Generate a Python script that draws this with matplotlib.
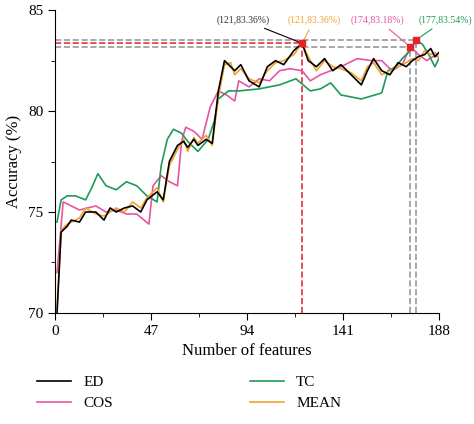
import matplotlib.pyplot as plt
from matplotlib.ticker import MultipleLocator

plt.rcParams['font.family'] = ['Liberation Serif', 'DejaVu Serif']

# === Daten ===
ed_x = [1, 3, 6, 8, 12, 15, 20, 24, 27, 30, 34, 38, 42, 45, 50, 53, 56, 60, 63, 65, 68, 70, 74, 77, 80, 83, 86, 88, 91, 95, 100, 104, 108, 112, 117, 121, 124, 128, 132, 136, 140, 145, 150, 153, 156, 160, 164, 168, 172, 175, 178, 181, 184, 186, 188]
ed_y = [70.0, 74.0, 74.3, 74.6, 74.5, 75.0, 75.0, 74.6, 75.2, 75.0, 75.2, 75.3, 75.0, 75.6, 76.0, 75.6, 77.5, 78.3, 78.5, 78.2, 78.6, 78.3, 78.6, 78.4, 81.0, 82.5, 82.2, 82.0, 82.3, 81.5, 81.2, 82.2, 82.5, 82.3, 83.0, 83.36, 82.5, 82.2, 82.6, 82.0, 82.3, 81.8, 81.3, 82.0, 82.6, 82.0, 81.8, 82.4, 82.2, 82.5, 82.7, 82.8, 83.1, 82.7, 82.9]

cos_x = [1, 4, 8, 12, 16, 20, 25, 30, 35, 40, 46, 48, 52, 56, 60, 62, 64, 68, 72, 76, 80, 84, 88, 90, 95, 100, 105, 110, 115, 121, 125, 130, 135, 140, 148, 155, 160, 165, 170, 174, 178, 182, 185, 188]
cos_y = [72.0, 75.5, 75.3, 75.1, 75.2, 75.3, 75.0, 75.1, 74.9, 74.9, 74.4, 76.3, 76.8, 76.5, 76.3, 78.5, 79.2, 79.0, 78.6, 80.2, 81.0, 80.8, 80.5, 81.5, 81.2, 81.6, 81.5, 82.0, 82.1, 82.0, 81.5, 81.8, 82.0, 82.2, 82.6, 82.5, 82.5, 82.0, 82.3, 83.18, 82.8, 82.5, 82.7, 82.7]

tc_x = [1, 3, 6, 10, 15, 18, 21, 25, 30, 35, 40, 45, 50, 52, 55, 58, 62, 65, 70, 75, 78, 80, 85, 90, 100, 110, 118, 125, 130, 135, 140, 150, 160, 163, 167, 170, 174, 177, 180, 183, 186, 188]
tc_y = [74.5, 75.6, 75.8, 75.8, 75.6, 76.2, 76.9, 76.3, 76.1, 76.5, 76.3, 75.8, 75.5, 77.3, 78.6, 79.1, 78.9, 78.5, 78.0, 78.6, 79.5, 80.6, 81.0, 81.0, 81.1, 81.3, 81.6, 81.0, 81.1, 81.4, 80.8, 80.6, 80.9, 82.0, 82.2, 82.6, 83.0, 83.54, 83.3, 82.8, 82.2, 82.6]

mean_x = [1, 3, 6, 8, 12, 15, 20, 24, 27, 30, 34, 38, 42, 45, 50, 53, 56, 60, 63, 65, 68, 70, 74, 77, 80, 83, 86, 88, 91, 95, 100, 104, 108, 112, 117, 121, 124, 128, 132, 136, 140, 145, 150, 153, 156, 160, 164, 168, 172, 175, 178, 181, 184, 186, 188]
mean_y = [70.2, 74.1, 74.4, 74.5, 74.7, 75.2, 74.9, 74.8, 75.0, 75.2, 75.0, 75.5, 75.2, 75.7, 76.2, 75.5, 77.3, 78.1, 78.6, 78.0, 78.7, 78.4, 78.8, 78.3, 80.7, 82.3, 82.4, 81.8, 82.1, 81.6, 81.4, 82.0, 82.4, 82.5, 82.8, 83.36, 82.7, 82.0, 82.5, 82.2, 82.1, 81.9, 81.5, 82.2, 82.4, 81.8, 82.0, 82.2, 82.4, 82.6, 82.5, 83.0, 82.8, 82.9, 82.7]

peaks = [(121, 83.36), (174, 83.18), (177, 83.54)]

colors = {'ED': 'black', 'COS': '#e8559f', 'TC': '#1f9a5a', 'MEAN': '#f5a030'}

fig = plt.figure(figsize=(4.74, 4.24), dpi=100)
ax = fig.add_axes([0.116, 0.262, 0.81, 0.714])

ax.plot(mean_x, mean_y, color=colors['MEAN'], lw=1.2, label='MEAN', zorder=3)
ax.plot(ed_x, ed_y, color=colors['ED'], lw=1.2, label='ED', zorder=4)
ax.plot(cos_x, cos_y, color=colors['COS'], lw=1.2, label='COS', zorder=2)
ax.plot(tc_x, tc_y, color=colors['TC'], lw=1.2, label='TC', zorder=2)

# Hilfslinien zu den Maxima
ax.plot([0, 121], [83.36, 83.36], '--', color='#e8303a', lw=1.2, zorder=1)
ax.plot([121, 121], [70, 83.36], '--', color='#e8303a', lw=1.2, zorder=1)
for px, py in [(174, 83.18), (177, 83.54)]:
    ax.plot([0, px], [py, py], '--', color='#999999', lw=1.2, zorder=1)
    ax.plot([px, px], [70, py], '--', color='#999999', lw=1.2, zorder=1)

for px, py in peaks:
    ax.plot(px, py, 's', color='#e8202a', ms=4, zorder=5)

# Beschriftungen
kw = dict(fontsize=7, annotation_clip=False)
ax.annotate('(121,83.36%)', xy=(121, 83.36), xytext=(79, 84.4), color='#333333',
            arrowprops=dict(arrowstyle='-', color='black', lw=0.8), **kw)
ax.annotate('(121,83.36%)', xy=(121, 83.36), xytext=(114, 84.4), color=colors['MEAN'],
            arrowprops=dict(arrowstyle='-', color=colors['MEAN'], lw=0.8), **kw)
ax.annotate('(174,83.18%)', xy=(174, 83.18), xytext=(145, 84.4), color=colors['COS'],
            arrowprops=dict(arrowstyle='-', color=colors['COS'], lw=0.8), **kw)
ax.annotate('(177,83.54%)', xy=(177, 83.54), xytext=(178, 84.4), color=colors['TC'],
            arrowprops=dict(arrowstyle='-', color=colors['TC'], lw=0.8), **kw)

ax.set_xlim(0, 188)
ax.set_ylim(70, 85)
ax.set_xticks([0, 47, 94, 141, 188])
ax.xaxis.set_minor_locator(MultipleLocator(23.5))
ax.set_yticks([70, 75, 80, 85])
ax.yaxis.set_minor_locator(MultipleLocator(2.5))
ax.tick_params(which='both', direction='out', labelsize=11)
ax.tick_params(which='major', length=5)
ax.tick_params(which='minor', length=3)
ax.spines['top'].set_visible(False)
ax.spines['right'].set_visible(False)
ax.set_xlabel('Number of features', fontsize=12)
ax.set_ylabel('Accuracy (%)', fontsize=12)

h, l = ax.get_legend_handles_labels()
order = [l.index(n) for n in ['ED', 'COS', 'TC', 'MEAN']]
fig.legend([h[i] for i in order], [l[i] for i in order], ncol=2, frameon=False,
           loc='lower left', bbox_to_anchor=(0.05, 0.0), fontsize=11,
           columnspacing=9, handlelength=2.2)

fig.savefig('out.png', dpi=100)
